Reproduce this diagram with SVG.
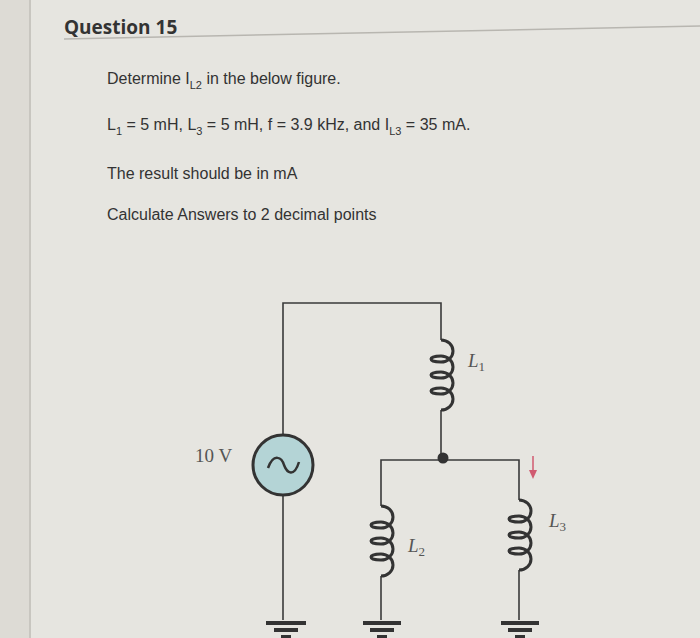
<svg xmlns="http://www.w3.org/2000/svg" width="700" height="638" viewBox="0 0 700 638">
<style>
.w{fill:none;stroke:#3a3a3a;stroke-width:1.6}
.c{fill:none;stroke:#333;stroke-width:3}
.t{font-family:"Liberation Sans",Arial,sans-serif;font-size:16px;fill:#333}
.s{font-family:"Liberation Sans",Arial,sans-serif;font-size:11px;fill:#333}
.l{font-family:"Liberation Serif","Times New Roman",serif;font-size:19px;fill:#555}
.g{fill:#333}
</style>
<rect width="700" height="638" fill="#dddbd5"/>
<rect x="30" y="0" width="670" height="638" fill="#e6e5e0"/>
<line x1="30" y1="0" x2="30" y2="638" stroke="#c8c6c0" stroke-width="2"/>
<text x="64" y="34" font-family="Open Sans,sans-serif" font-size="19" font-weight="bold" fill="#333">Question 15</text>
<line x1="64" y1="39" x2="700" y2="26" stroke="#b8b6b0" stroke-width="1.5"/>
<text class="t" x="107" y="84">Determine I<tspan class="s" dy="5">L2</tspan><tspan dy="-5"> in the below figure.</tspan></text>
<text class="t" x="107" y="130">L<tspan class="s" dy="5">1</tspan><tspan dy="-5"> = 5 mH, L</tspan><tspan class="s" dy="5">3</tspan><tspan dy="-5"> = 5 mH, f = 3.9 kHz, and I</tspan><tspan class="s" dy="5">L3</tspan><tspan dy="-5"> = 35 mA.</tspan></text>
<text class="t" x="107" y="179">The result should be in mA</text>
<text class="t" x="107" y="220">Calculate Answers to 2 decimal points</text>
<g id="connectors">
<path class="w" d="M283 435 V303 H441 V340"/>
<path class="w" d="M441 410 V457"/>
<path class="w" d="M381 506 V460 H519 V500"/>
<path class="w" d="M283 495 V620"/>
<path class="w" d="M381 576 V620"/>
<path class="w" d="M519 570 V620"/>
</g>
<g id="source">
<circle cx="283" cy="465" r="30" fill="#b4d4d6" stroke="#333" stroke-width="3"/>
<path d="M268 468 C274 452 282 458 284 465 C287 473 294 478 299 462" fill="none" stroke="#333" stroke-width="2.5"/>
<text class="l" x="195" y="462">10 V</text>
</g>
<g id="L1">
<path class="c" d="M441 340 a12 11 0 1 1 0 22 a10 3 0 1 1 0 -6 a12 11 0 1 1 0 22 a10 3 0 1 1 0 -6 a12 11 0 1 1 0 22 a10 3 0 1 1 0 -6 a12 11 0 1 1 0 22"/>
<text class="l" x="468" y="367" font-style="italic">L<tspan font-size="13" font-style="normal" dy="4">1</tspan></text>
</g>
<g id="node"><circle cx="443" cy="458" r="5.5" class="g"/></g>
<g id="L2">
<path class="c" d="M381 506 a12 11 0 1 1 0 22 a10 3 0 1 1 0 -6 a12 11 0 1 1 0 22 a10 3 0 1 1 0 -6 a12 11 0 1 1 0 22 a10 3 0 1 1 0 -6 a12 11 0 1 1 0 22"/>
<text class="l" x="408" y="552" font-style="italic">L<tspan font-size="13" font-style="normal" dy="4">2</tspan></text>
</g>
<g id="L3">
<path class="c" d="M519 500 a12 11 0 1 1 0 22 a10 3 0 1 1 0 -6 a12 11 0 1 1 0 22 a10 3 0 1 1 0 -6 a12 11 0 1 1 0 22 a10 3 0 1 1 0 -6 a12 11 0 1 1 0 22"/>
<text class="l" x="549" y="527" font-style="italic">L<tspan font-size="13" font-style="normal" dy="4">3</tspan></text>
</g>
<g id="arrow">
<line x1="533" y1="456" x2="533" y2="472" stroke="#d05a70" stroke-width="1.5"/>
<path d="M529 470 L533 479 L537 470 Z" fill="#d05a70"/>
</g>
<g id="grounds">
<rect x="266" y="621" width="40" height="4" class="g"/><rect x="274" y="628" width="24" height="4" class="g"/><rect x="281" y="635" width="10" height="3" class="g"/>
<rect x="363" y="621" width="38" height="4" class="g"/><rect x="370" y="628" width="24" height="4" class="g"/><rect x="377" y="635" width="10" height="3" class="g"/>
<rect x="501" y="621" width="38" height="4" class="g"/><rect x="508" y="628" width="24" height="4" class="g"/><rect x="515" y="635" width="10" height="3" class="g"/>
</g>
</svg>
